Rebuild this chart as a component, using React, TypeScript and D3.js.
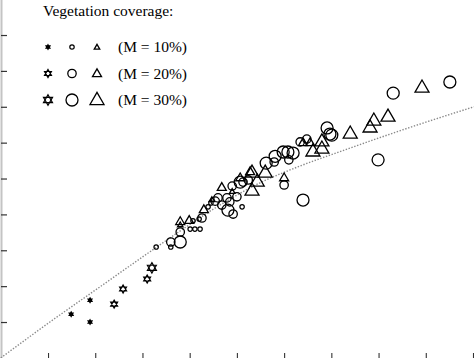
import React, { useEffect, useRef } from "react";
import * as d3 from "d3";

// vegetation coverage classes and legend labels
const coverage = [10, 20, 30];
const legendLabels = ["(M = 10%)", "(M = 20%)", "(M = 30%)"];

// observed points: [x, y, M]
const starPoints = [
  [1.49, 1.22, 10], [1.89, 1.61, 10], [1.89, 1.0, 10],
  [2.4, 1.5, 20], [2.59, 1.92, 20], [3.1, 2.2, 20],
  [3.2, 2.51, 30],
];

const circlePoints = [
  [3.29, 3.09, 10], [3.6, 3.09, 10], [4.01, 3.59, 10], [4.11, 3.59, 10],
  [4.22, 3.59, 10], [4.07, 3.82, 10], [4.2, 3.87, 10], [4.39, 4.21, 10],
  [4.45, 4.32, 10], [5.11, 4.21, 10],
  [3.6, 3.23, 20], [3.8, 3.51, 20], [4.26, 3.9, 20], [4.54, 4.37, 20],
  [4.6, 4.46, 20], [4.79, 4.46, 20], [4.85, 4.35, 20], [4.92, 4.01, 20],
  [4.68, 4.26, 20], [5.0, 4.49, 20],
  [4.9, 4.79, 20], [5.13, 4.9, 20], [5.24, 4.96, 20], [6.0, 4.82, 20],
  [5.79, 5.46, 20], [6.1, 5.52, 20], [6.48, 6.1, 20], [6.34, 6.02, 20],
  [3.8, 3.23, 30], [4.81, 4.12, 30], [5.07, 4.9, 30], [5.62, 5.43, 30],
  [5.81, 5.62, 30], [5.98, 5.74, 30], [6.08, 5.74, 30], [6.19, 5.71, 30],
  [6.4, 4.4, 30], [6.91, 6.41, 30], [6.97, 6.24, 30], [7.01, 6.21, 30],
  [7.99, 5.52, 30], [8.31, 7.38, 30], [9.51, 7.69, 30],
];

const trianglePoints = [
  [3.8, 3.7, 10], [4.47, 4.4, 10], [4.9, 4.63, 10],
  [3.8, 3.79, 20], [3.99, 3.82, 20], [4.3, 4.12, 20], [4.68, 4.74, 20],
  [5.07, 5.01, 20], [5.28, 5.18, 20], [6.0, 5.01, 20], [6.4, 5.99, 20],
  [6.55, 5.99, 20],
  [5.32, 4.65, 30], [5.43, 4.9, 30], [5.32, 5.15, 30], [5.6, 5.15, 30],
  [6.61, 5.74, 30], [6.8, 5.82, 30], [6.8, 6.02, 30], [7.4, 6.24, 30],
  [7.82, 6.41, 30], [7.9, 6.6, 30], [8.2, 6.71, 30], [8.92, 7.52, 30],
];

// reference curve (dotted)
const curveX = [0, 1.04, 2.1, 3.16, 3.8, 4.64, 5.49, 6.34, 7.4, 8.45, 10.02];
const curveY = [0, 1.0, 1.98, 2.96, 3.54, 4.26, 4.88, 5.35, 5.85, 6.33, 7.0];

const xTicks = [1, 2, 3, 4, 5, 6, 7, 8, 9, 10];
const yTicks = [1, 2, 3, 4, 5, 6, 7, 8, 9];

const W = 474;
const H = 358;

const circleR = { 10: 2.2, 20: 4.2, 30: 6 };
const triSide = { 10: 5.5, 20: 9, 30: 14 };
const starR = { 10: 2.3, 20: 4, 30: 5.2 };

const hexagram = (r) => {
  const tri = (off) =>
    [0, 1, 2]
      .map((i) => {
        const a = ((off + i * 120 - 90) * Math.PI) / 180;
        return `${i ? "L" : "M"}${r * Math.cos(a)},${r * Math.sin(a)}`;
      })
      .join("") + "Z";
  return tri(0) + tri(60);
};

const App = () => {
  const svgRef = useRef(null);

  useEffect(() => {
    const svg = d3.select(svgRef.current);
    svg.selectAll("*").remove();

    const x = d3.scaleLinear().domain([0, 10]).range([0.8, 473]);
    const y = d3.scaleLinear().domain([0, 10]).range([357.9, -0.85]);

    // axes (ticks pointing inward, no labels)
    const gy = svg
      .append("g")
      .attr("transform", "translate(1,0)")
      .call(d3.axisLeft(y).tickValues(yTicks).tickSizeInner(-6).tickSizeOuter(0).tickFormat(() => ""));
    gy.select(".domain").attr("stroke", "#c4c4c4").attr("stroke-width", 2);
    gy.selectAll(".tick line").attr("stroke", "#333").attr("stroke-width", 1.2);

    const gx = svg
      .append("g")
      .attr("transform", `translate(0,${H})`)
      .call(d3.axisBottom(x).tickValues(xTicks).tickSizeInner(-5).tickSizeOuter(0).tickFormat(() => ""));
    gx.select(".domain").remove();
    gx.selectAll(".tick line").attr("stroke", "#333").attr("stroke-width", 1.1);

    // dotted reference curve
    const line = d3
      .line()
      .x((d) => x(d[0]))
      .y((d) => y(d[1]))
      .curve(d3.curveMonotoneX);
    svg
      .append("path")
      .attr("d", line(curveX.map((v, i) => [v, curveY[i]])))
      .attr("fill", "none")
      .attr("stroke", "#8a8a8a")
      .attr("stroke-width", 1.4)
      .attr("stroke-dasharray", "1.4,1.6");

    const drawCircle = (g, cx, cy, m) =>
      g.append("circle").attr("cx", cx).attr("cy", cy).attr("r", circleR[m])
        .attr("fill", "none").attr("stroke", "#000").attr("stroke-width", m === 10 ? 1.2 : 1.3);

    const drawTriangle = (g, cx, cy, m) => {
      const s = triSide[m];
      const area = (Math.sqrt(3) / 4) * s * s;
      g.append("path")
        .attr("d", d3.symbol(d3.symbolTriangle, area)())
        .attr("transform", `translate(${cx},${cy})`)
        .attr("fill", "none").attr("stroke", "#000").attr("stroke-width", 1.3);
    };

    const drawStar = (g, cx, cy, m) =>
      g.append("path")
        .attr("d", hexagram(starR[m]))
        .attr("transform", `translate(${cx},${cy})`)
        .attr("fill", m === 10 ? "#000" : "none")
        .attr("stroke", "#000").attr("stroke-width", 1.2);

    const marks = svg.append("g");
    circlePoints.forEach(([a, b, m]) => drawCircle(marks, x(a), y(b), m));
    trianglePoints.forEach(([a, b, m]) => drawTriangle(marks, x(a), y(b), m));
    starPoints.forEach(([a, b, m]) => drawStar(marks, x(a), y(b), m));

    // legend
    const legend = svg.append("g").attr("font-family", "'Liberation Serif', 'Times New Roman', serif").attr("font-size", 15.5);
    legend.append("text").attr("x", 43).attr("y", 16).text("Vegetation coverage:");
    coverage.forEach((m, i) => {
      const ly = 47 + i * 26.5;
      drawStar(legend, 48, ly, m);
      drawCircle(legend, 72, ly, m);
      drawTriangle(legend, 97, ly + 0.5, m);
      legend.append("text").attr("x", 118).attr("y", ly + 5).text(legendLabels[i]);
    });
  }, []);

  return (
    <svg
      ref={svgRef}
      width={W}
      height={H}
      style={{ position: "absolute", left: 0, top: 0, background: "#fff" }}
    />
  );
};

export default App;
